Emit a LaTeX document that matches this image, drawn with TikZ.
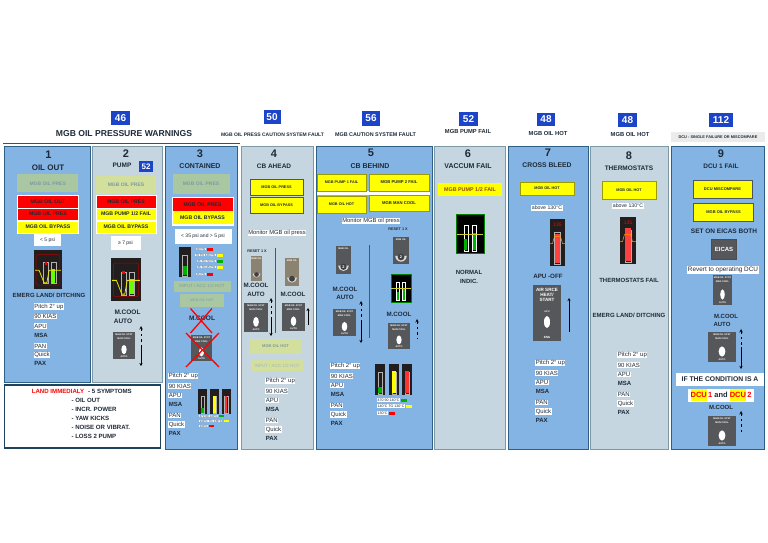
\documentclass[tikz,border=0pt]{standalone}
\usepackage{fontspec}
\setmainfont{Liberation Sans}
\usetikzlibrary{arrows.meta}
\definecolor{pnlblue}{HTML}{84B4E4}
\definecolor{pnlgrey}{HTML}{C5D6E0}
\definecolor{bordblue}{HTML}{2E5F85}
\definecolor{bordgrey}{HTML}{7F98A6}
\definecolor{tagblue}{HTML}{1C44C8}
\definecolor{inkdark}{HTML}{1E2A38}
\definecolor{offgreen}{HTML}{A9C8A2}
\definecolor{offlime}{HTML}{D3DF9C}
\definecolor{offtext}{HTML}{7F9AA0}
\definecolor{alarmred}{HTML}{FF0000}
\definecolor{alarmyel}{HTML}{FFFF00}
\definecolor{knobgrey}{HTML}{55575A}
\definecolor{knobtan}{HTML}{8C8270}
\definecolor{gaugebk}{HTML}{221E1E}
\newcommand{\fs}[1]{\fontsize{#1}{#1}\selectfont}
\tikzset{
  sz/.style 2 args={minimum width=#1,minimum height=#2,inner sep=0pt,outer sep=0pt},
  pblue/.style={draw=bordblue,fill=pnlblue,line width=1pt},
  pgrey/.style={draw=bordgrey,fill=pnlgrey,line width=1pt},
  tag/.style={fill=tagblue,text=white,font=\bfseries\fs{10}},
  head/.style={text=inkdark,font=\bfseries\fs{#1}},
  head/.default=8,
  msg/.style={text=inkdark,font=\bfseries\fs{#1}},
  redb/.style={fill=alarmred,draw=white,text=inkdark,font=\bfseries\fs{5.2}},
  yelb/.style={fill=alarmyel,draw=white,text=inkdark,font=\bfseries\fs{5.2}},
  yeld/.style={fill=alarmyel,draw=inkdark!80,line width=0.7pt,text=inkdark,font=\bfseries\fs{3.8}},
  offb/.style={fill=offgreen,text=offtext,font=\bfseries\fs{5}},
  limeb/.style={fill=offlime,text=offtext,font=\bfseries\fs{5}},
  note/.style={fill=white,inner sep=0.6pt,text=inkdark,font=\fs{6}},
  noteb/.style={inner sep=0.6pt,text=inkdark,font=\bfseries\fs{6}},
  tiny/.style={fill=white,inner sep=0.3pt,text=inkdark,font=\fs{3}},
  knobtxt/.style={text=white,font=\bfseries\fs{2.4},inner sep=0pt},
  arr/.style={-{Stealth[length=3pt,width=3pt]},line width=0.6pt,black},
  dashln/.style={line width=0.6pt,black,dash pattern=on 2.5pt off 3pt},
  redx/.style={draw=alarmred,line width=1.3pt},
  listln/.style={text=inkdark,font=\bfseries\fs{6.1}}
}
% drill list used in most of the columns
\newcommand{\drills}[3]{
  \node[note,anchor=west] (#1a) at (#2,#3) {Pitch 2° up};
  \node[note,anchor=west] (#1b) at (#2,#3+10) {90 KIAS};
  \node[note,anchor=west] (#1c) at (#2,#3+19.5) {APU};
  \node[noteb,anchor=west] (#1d) at (#2,#3+28.5) {MSA};
  \node[note,anchor=west] (#1e) at (#2,#3+39.5) {PAN};
  \node[note,anchor=west] (#1f) at (#2,#3+48.5) {Quick};
  \node[noteb,anchor=west] (#1g) at (#2,#3+57) {PAX};
}
% grey switch: name, centre x, centre y, width, height
\newcommand{\mcool}[5]{
  \node[fill=knobgrey,sz={#4}{#5}] (#1) at (#2,#3) {};
  \node[knobtxt,anchor=north] (#1t) at (#1.north) [yshift=-2pt] {MGB OIL SYST};
  \node[knobtxt,anchor=north] (#1m) at (#1t.south) [yshift=-1.5pt] {MAN COOL};
  \node[knobtxt,anchor=south] (#1u) at (#1.south) [yshift=1.5pt] {AUTO};
  \fill[white] (#2,#3+0.15*#5) ellipse ({0.12*#4} and {0.17*#5});
}
% round selector: name, x, y, w, h, colour, digit
\newcommand{\selector}[7]{
  \node[fill=#6,sz={#4}{#5}] (#1) at (#2,#3) {};
  \node[knobtxt,anchor=north] (#1t) at (#1.north) [yshift=-2pt] {MGB OIL};
  \fill[white!85!black] (#2-0.36*#4,#3+0.2*#5) arc[start angle=180,end angle=360,x radius=0.36*#4,y radius=-0.36*#4];
  \node[fill=black!75,circle,text=white,inner sep=0.5pt,minimum size=0.42*#4,font=\bfseries\fs{4}] (#1d) at (#2,#3+0.24*#5) {#7};
}
% single bar gauge: name, x, y, w, h, colour, level
\newcommand{\bargauge}[7]{
  \node[fill=gaugebk,sz={#4}{#5}] (#1) at (#2,#3) {};
  \draw[white!70!black,line width=0.4pt] (#2-0.2*#4,#3-0.22*#5) rectangle (#2+0.2*#4,#3+0.46*#5);
  \fill[#6] (#2-0.16*#4,#3+0.44*#5) rectangle (#2+0.16*#4,#3+0.44*#5-#7*#5);
}
% temp gauge shoulders and read out: name, value
\newcommand{\shoulder}[2]{
  \draw[orange!80!yellow,line width=0.5pt] ([yshift=-1pt]#1.west) -- ++(2.5,0) -- ++(2,-7) -- ++(6,0) -- ++(2,7) -- ([yshift=-1pt]#1.east);
  \node[text=alarmred,font=\fs{5},inner sep=0pt,anchor=north] (#1v) at (#1.north) [yshift=-4pt] {#2};
}
% double gauge with the pump trace: name, x, y, w, h
\newcommand{\pressgauge}[5]{
  \node[fill=gaugebk,sz={#4}{#5}] (#1) at (#2,#3) {};
  \draw[red!70!black,line width=0.5pt,rounded corners=2pt] (#2-0.42*#4,#3-0.38*#5) rectangle (#2+0.42*#4,#3+0.4*#5);
  \draw[white!70!black,line width=0.5pt] (#2-0.16*#4,#3-0.18*#5) rectangle ++(0.16*#4,0.54*#5);
  \draw[white!70!black,line width=0.5pt] (#2+0.12*#4,#3-0.18*#5) rectangle ++(0.16*#4,0.54*#5);
  \fill[alarmred] (#2-0.12*#4,#3-0.2*#5) rectangle ++(0.08*#4,0.08*#5);
  \fill[green!60!yellow] (#2+0.14*#4,#3-0.02*#5) rectangle ++(0.12*#4,0.36*#5);
  \draw[alarmyel!90!black,line width=0.8pt] (#2-0.46*#4,#3+0.02*#5) -- (#2-0.32*#4,#3+0.02*#5) -- (#2-0.14*#4,#3+0.34*#5) -- (#2-0.04*#4,#3+0.34*#5) -- (#2+0.04*#4,#3+0.02*#5) -- (#2+0.46*#4,#3+0.02*#5);
}
% green framed gauge: name, x, y, w
\newcommand{\dualgauge}[4]{
  \node[fill=black,draw=green!50!black,sz={#4}{1.4*#4}] (#1) at (#2,#3) {};
  \draw[white,line width=0.4pt] (#2-0.22*#4,#3-0.3*#4) rectangle ++(0.14*#4,0.9*#4);
  \draw[white,line width=0.4pt] (#2+0.08*#4,#3-0.3*#4) rectangle ++(0.14*#4,0.9*#4);
  \fill[green!70!black] (#2-0.2*#4,#3+0.58*#4) rectangle ++(0.1*#4,-0.4*#4);
  \fill[green!70!black] (#2+0.1*#4,#3+0.58*#4) rectangle ++(0.1*#4,-0.6*#4);
  \draw[yellow!80!black,line width=0.7pt] (#2-0.48*#4,#3) -- (#2+0.48*#4,#3);
}
\begin{document}
\begin{tikzpicture}[x=1pt,y=-1pt,>=stealth]
  \useasboundingbox (0,0) rectangle (768,543);

  % section headings
  \node[tag,sz={19}{14}] (t46) at (120.5,118) {46};
  \node[head=8.6] (h46) at (124,134) {MGB OIL PRESSURE WARNINGS};
  \node[tag,sz={17}{14}] (t50) at (272,117) {50};
  \node[msg=5] (h50) at (272.5,134.5) {MGB OIL PRESS CAUTION SYSTEM FAULT};
  \node[tag,sz={18}{15}] (t56) at (371,118.5) {56};
  \node[msg=5.4] (h56) at (375.5,135) {MGB CAUTION SYSTEM FAULT};
  \node[tag,sz={19}{14}] (t52) at (468.5,119) {52};
  \node[msg=5.8] (h52) at (468,132) {MGB PUMP FAIL};
  \node[tag,sz={18}{13}] (t48a) at (546,119.5) {48};
  \node[msg=5.8] (h48a) at (548,134) {MGB OIL HOT};
  \node[tag,sz={19}{14}] (t48b) at (627.5,120) {48};
  \node[msg=5.8] (h48b) at (630,135) {MGB OIL HOT};
  \node[tag,sz={24}{14}] (t112) at (721,120) {112};
  \node[fill=black!8,text=inkdark,font=\bfseries\fs{3.9},sz={94}{10}] (h112) at (718,137) {DCU - SINGLE FAILURE OR MISCOMPARE};
  \coordinate (ruleL) at (3,143.5);
  \coordinate (ruleR) at (240,143.5);
  \draw[black!70,line width=1.3pt] (ruleL) -- (ruleR);

  % columns
  \node[pblue,sz={86}{236}] (p1) at (47.7,264) {};
  \node[pgrey,sz={70.5}{236}] (p2) at (127.3,264) {};
  \node[pblue,sz={72}{303}] (p3) at (201,297.5) {};
  \node[pgrey,sz={72}{303}] (p4) at (277,297.5) {};
  \node[pblue,sz={116}{303}] (p5) at (374.5,297.5) {};
  \node[pgrey,sz={71}{303}] (p6) at (470,297.5) {};
  \node[pblue,sz={80}{303}] (p7) at (548,297.5) {};
  \node[pgrey,sz={78}{303}] (p8) at (629.5,297.5) {};
  \node[pblue,sz={93}{303}] (p9) at (718,297.5) {};
  \node[draw=bordblue!70!black,fill=white,line width=1.2pt,sz={156}{63}] (land) at (82.7,416.5) {};

  % column 1
  \node[head=11] (n1) at (48.5,155) {1};
  \node[head] (c1) at (48,167.5) {OIL OUT};
  \node[offb,sz={61}{18}] (b1a) at (47.7,183.3) {MGB OIL PRES};
  \node[redb,sz={61}{12.5}] (b1b) at (48,201.5) {MGB OIL OUT};
  \node[redb,sz={61}{12.5}] (b1c) at (48,214) {MGB OIL PRES};
  \node[yelb,sz={61}{12.5}] (b1d) at (48,227) {MGB OIL BYPASS};
  \node[note,sz={27}{12},font=\fs{5}] (s1) at (47.5,240) {< 5 psi};
  \pressgauge{g1}{48}{269.5}{28}{39}
  \node[head=6] (e1) at (49,295) {EMERG LAND/ DITCHING};
  \drills{d1}{33.5}{306.5}

  % column 2
  \node[head=11] (n2) at (126,154) {2};
  \node[head=6.5] (c2) at (122,165.5) {PUMP};
  \node[tag,font=\bfseries\fs{8},sz={13.5}{11}] (t2) at (146,166.5) {52};
  \node[limeb,sz={60}{18}] (b2a) at (126,185) {MGB OIL PRES};
  \node[redb,sz={60}{12.5}] (b2b) at (126,201.5) {MGB OIL PRES};
  \node[yelb,sz={60}{12.5}] (b2c) at (126,214) {MGB PUMP 1/2 FAIL};
  \node[yelb,sz={60}{12.5}] (b2d) at (126,227) {MGB OIL BYPASS};
  \node[note,sz={30}{14},font=\fs{5}] (s2) at (125.5,243) {≥ 7 psi};
  \pressgauge{g2}{126}{279.5}{30}{43}
  \node[head=6.5] (m2a) at (127.5,312.5) {M.COOL};
  \node[head=6.5] (m2b) at (123,321) {AUTO};
  \mcool{k2}{124}{345.5}{22}{27}
  \coordinate (a2t) at (141,326); \coordinate (a2m) at (141,345); \coordinate (a2b) at (141,366);
  \draw[dashln,<-] (a2t) -- (a2m); \draw[arr] (a2m) -- (a2b);

  % column 3
  \node[head=11] (n3) at (200,154) {3};
  \node[head=7] (c3) at (200,166) {CONTAINED};
  \node[offb,sz={57}{20}] (b3a) at (201,184) {MGB OIL PRES};
  \node[fill=white,sz={62}{29}] (w3) at (202.5,211) {};
  \node[redb,draw=none,sz={60}{12.5}] (b3b) at (202.5,204.5) {MGB OIL PRES};
  \node[yelb,draw=none,sz={60}{13}] (b3c) at (202.5,217.5) {MGB OIL BYPASS};
  \node[note,sz={57}{15},font=\fs{5}] (s3) at (203,236.5) {< 35 psi and > 5 psi};
  \bargauge{g3}{185}{262}{12}{30}{green!70!black}{0.3}
  \foreach \lab/\yy/\cc/\xx in {130 PSI/249/alarmred/206,70 TO 130 PSI/255/alarmyel/216,45 TO 70 PSI/261/green!70!black/216,35 TO 45 PSI/267/alarmyel/216,35 PSI/274/alarmred/206}{
    \node[tiny,anchor=east] (k\yy) at (\xx,\yy) {\lab};
    \node[fill=\cc,sz={6}{3},anchor=west] (m\yy) at (k\yy.east) [xshift=1pt] {};
  }
  \node[offb,sz={57}{11},font=\fs{4.5}] (b3d) at (202,286) {INPUT / ACC 1/2 HOT};
  \node[offb,sz={44}{13},font=\fs{3.6}] (b3e) at (202,300.5) {MGB OIL HOT};
  \node[head=6.5] (m3) at (202,318.5) {M.COOL};
  \coordinate (x1a) at (190.5,308.5); \coordinate (x1b) at (212,333);
  \coordinate (x1c) at (212,308.5); \coordinate (x1d) at (190.5,333);
  \draw[redx] (x1a) -- (x1b); \draw[redx] (x1c) -- (x1d);
  \mcool{k3}{201.5}{348}{21}{26}
  \coordinate (x2a) at (186,333); \coordinate (x2b) at (219,367);
  \coordinate (x2c) at (219,333); \coordinate (x2d) at (186,367);
  \draw[redx] (x2a) -- (x2b); \draw[redx] (x2c) -- (x2d);
  \drills{d3}{168}{376}
  \bargauge{g3a}{202.5}{401.5}{9}{25}{green!70!black}{0.2}
  \bargauge{g3b}{214.5}{401.5}{9}{25}{alarmyel}{0.65}
  \bargauge{g3c}{226}{401.5}{9}{25}{alarmred!80!white}{0.65}
  \foreach \lab/\yy/\cc in {470 90 140°C/416/green!70!black,140°C TO 130°C/421/alarmyel,130°C/426/alarmred}{
    \node[tiny,anchor=west] (r\yy) at (199,\yy) {\lab};
    \node[fill=\cc,sz={5}{2.5},anchor=west] (q\yy) at (r\yy.east) [xshift=1pt] {};
  }

  % land box
  \node[listln,text=alarmred] (l0) at (58,391.5) {LAND IMMEDIALY};
  \node[listln] (l1) at (110,391.5) {- 5 SYMPTOMS};
  \foreach \lab/\yy in {OIL OUT/400,INCR. POWER/409,YAW KICKS/418,NOISE OR VIBRAT./427,LOSS 2 PUMP/436}{
    \node[listln,anchor=west] (l\yy) at (68,\yy) {- \lab};
  }

  % column 4
  \node[head=11] (n4) at (274,154) {4};
  \node[head=6.5] (c4) at (274,166) {CB AHEAD};
  \node[yeld,sz={53}{16}] (b4a) at (276.5,187) {MGB OIL PRESS};
  \node[yeld,sz={53}{16}] (b4b) at (276.5,205) {MGB OIL BYPASS};
  \node[note,font=\fs{5.8}] (s4) at (277,233) {Monitor MGB oil press};
  \node[head=3.8] (r4) at (257,251) {RESET 1 X};
  \coordinate (v4a) at (275.5,248); \coordinate (v4b) at (275.5,333);
  \draw[bordblue,line width=0.7pt] (v4a) -- (v4b);
  \selector{q4a}{256.5}{268.5}{11}{25}{knobtan}{}
  \selector{q4b}{292}{272}{14}{28}{knobtan}{}
  \node[head=6.2] (m4a) at (256,285.5) {M.COOL};
  \node[head=6.2] (m4b) at (256,294.5) {AUTO};
  \node[head=6.2] (m4c) at (293,294) {M.COOL};
  \mcool{k4a}{256}{317.5}{24}{29}
  \mcool{k4b}{293.5}{317}{23}{28}
  \coordinate (a4t) at (271,298); \coordinate (a4m) at (271,317); \coordinate (a4b) at (271,336);
  \draw[dashln,<-] (a4t) -- (a4m); \draw[arr] (a4m) -- (a4b);
  \coordinate (a5t) at (308,308); \coordinate (a5b) at (308,325);
  \draw[arr] (a5b) -- (a5t);
  \node[limeb,sz={51}{15},font=\bfseries\fs{4}] (b4c) at (275.5,346.5) {MGB OIL HOT};
  \node[limeb,sz={52}{11},text=offtext!70,font=\fs{4.5}] (b4d) at (277,365.5) {INPUT / ACC 1/2 HOT};
  \drills{d4}{265}{381}

  % column 5
  \node[head=11] (n5) at (371,153) {5};
  \node[head=7] (c5) at (370,166) {CB BEHIND};
  \node[fill=white,sz={113}{4}] (w5) at (373,193) {};
  \node[yeld,draw=alarmyel!60!black,line width=0.4pt,sz={49}{17}] (b5a) at (341.5,182.5) {MGB PUMP 1 FAIL};
  \node[yeld,draw=alarmyel!60!black,line width=0.4pt,sz={60}{17},font=\bfseries\fs{4.2}] (b5b) at (399,182.5) {MGB PUMP 2 FAIL};
  \node[yeld,draw=alarmyel!60!black,line width=0.4pt,sz={49}{17}] (b5c) at (341.5,204.5) {MGB OIL HOT};
  \node[yeld,draw=alarmyel!60!black,line width=0.4pt,sz={60}{16},font=\bfseries\fs{4.2}] (b5d) at (399,203.5) {MGB MAN COOL};
  \node[note,font=\fs{5.8}] (s5) at (371,221) {Monitor MGB oil press};
  \node[head=3.8] (r5) at (398,229.5) {RESET 1 X};
  \coordinate (v5a) at (369.5,245); \coordinate (v5b) at (369.5,338);
  \draw[bordblue,line width=0.7pt] (v5a) -- (v5b);
  \selector{q5a}{343.5}{260}{15}{28}{knobgrey}{2}
  \selector{q5b}{401}{250.5}{16}{27}{knobgrey}{2}
  \dualgauge{g5}{401}{288}{20}
  \node[head=6.2] (m5a) at (345,289) {M.COOL};
  \node[head=6.2] (m5b) at (345,297.5) {AUTO};
  \node[head=6.2] (m5c) at (399,314) {M.COOL};
  \mcool{k5a}{344.5}{322.5}{23}{27}
  \mcool{k5b}{399}{336}{22}{26}
  \coordinate (a6t) at (361,301); \coordinate (a6m) at (361,322); \coordinate (a6b) at (361,343);
  \draw[dashln,<-] (a6t) -- (a6m); \draw[arr] (a6m) -- (a6b);
  \coordinate (a7t) at (417,319); \coordinate (a7b) at (417,338);
  \draw[dashln,<-] (a7t) -- (a7b);
  \drills{d5}{330}{366}
  \bargauge{g5a}{380}{379.5}{10}{31}{green!70!black}{0.2}
  \bargauge{g5b}{394}{379.5}{10}{31}{alarmyel}{0.7}
  \bargauge{g5c}{407}{379.5}{10}{31}{alarmred!80!white}{0.7}
  \foreach \lab/\yy/\cc in {470 90 140°C/400/green!70!black,140°C TO 130°C/406/alarmyel,130°C/413/alarmred}{
    \node[tiny,anchor=west,font=\fs{3.6}] (u\yy) at (377,\yy) {\lab};
    \node[fill=\cc,sz={6}{3},anchor=west] (v\yy) at (u\yy.east) [xshift=1pt] {};
  }

  % column 6
  \node[head=11] (n6) at (468,154) {6};
  \node[head=7] (c6) at (468,166) {VACCUM FAIL};
  \node[fill=alarmyel,text=orange!60!black,font=\bfseries\fs{5.4},sz={64}{13}] (b6) at (470,189.5) {MGB PUMP 1/2 FAIL};
  \dualgauge{g6}{470}{234}{28}
  \node[head=6] (i6a) at (469,272) {NORMAL};
  \node[head=6] (i6b) at (469,281) {INDIC.};

  % column 7
  \node[head=11] (n7) at (548,153) {7};
  \node[head=6.8] (c7) at (547,165.5) {CROSS BLEED};
  \node[yeld,draw=alarmyel!60!black,line width=0.5pt,sz={54}{13}] (b7) at (547,188.5) {MGB OIL HOT};
  \node[note,font=\fs{5.2}] (s7) at (547,208) {above 130°C};
  \bargauge{g7}{557.5}{242.5}{15}{47}{alarmred!75!white}{0.62}
  \shoulder{g7}{135}
  \node[head=6.2] (o7) at (548,276) {APU -OFF};
  \node[fill=knobgrey,sz={28}{56}] (k7) at (547,313) {};
  \node[text=white,font=\bfseries\fs{4.6},align=center,anchor=north,inner sep=0pt] (k7t) at (k7.north) [yshift=-3pt] {AIR SRCE\\[0.5pt]HEAT/\\[0.5pt]START};
  \node[knobtxt] (k7a) at (547,311.5) {APU};
  \fill[white] (547,322) ellipse (3 and 6);
  \node[knobtxt,font=\bfseries\fs{3}] (k7b) at (547,337) {ENG};
  \coordinate (a8t) at (569,298); \coordinate (a8b) at (569,332);
  \draw[arr] (a8b) -- (a8t);
  \drills{d7}{535}{363}

  % column 8
  \node[head=11] (n8) at (629,156) {8};
  \node[head=6.5] (c8) at (629,168) {THERMOSTATS};
  \node[yeld,draw=alarmyel!60!black,line width=0.5pt,sz={54}{18}] (b8) at (629,190) {MGB OIL HOT};
  \node[note,font=\fs{5.2}] (s8) at (628,206) {above 130°C};
  \bargauge{g8}{628}{240.5}{16}{47}{alarmred!75!white}{0.7}
  \shoulder{g8}{135}
  \node[head=6] (f8) at (629,280) {THERMOSTATS FAIL};
  \node[head=6] (e8) at (629,315.5) {EMERG LAND/ DITCHING};
  \drills{d8}{617}{355}

  % column 9
  \node[head=11] (n9) at (721,154) {9};
  \node[head=6.5] (c9) at (721,166) {DCU 1 FAIL};
  \node[yeld,sz={59}{18},font=\bfseries\fs{4}] (b9a) at (722.5,189) {DCU MISCOMPARE};
  \node[yeld,sz={60}{18},font=\bfseries\fs{4}] (b9b) at (723.5,212) {MGB OIL BYPASS};
  \node[head=6.5] (e9) at (724,231) {SET ON EICAS BOTH};
  \node[fill=knobgrey,draw=black!70,line width=1pt,sz={25}{20},text=white,font=\bfseries\fs{6}] (eic) at (724,249) {EICAS};
  \node[note,font=\fs{6.4}] (v9) at (723,270) {Revert to operating DCU};
  \mcool{k9a}{722.5}{290}{19}{30}
  \node[head=6] (m9a) at (726,316) {M.COOL};
  \node[head=6] (m9b) at (722,324.5) {AUTO};
  \mcool{k9b}{722}{347}{28}{30}
  \coordinate (a9t) at (741,329); \coordinate (a9m) at (741,347); \coordinate (a9b) at (741,369);
  \draw[dashln,<-] (a9t) -- (a9m); \draw[arr] (a9m) -- (a9b);
  \node[fill=white,sz={88}{13},text=inkdark,font=\bfseries\fs{6.8}] (if9) at (720,379) {IF THE CONDITION IS A};
  \node[fill=white,sz={66}{13},font=\bfseries\fs{7.5}] (dcu) at (721,395) {\colorbox{alarmyel}{\hspace{-3pt}\textcolor{alarmred}{DCU}\hspace{-3pt}}\,\textcolor{alarmred}{1} \textcolor{inkdark}{and} \colorbox{alarmyel}{\hspace{-3pt}\textcolor{alarmred}{DCU}\hspace{-3pt}}\,\textcolor{alarmred}{2}};
  \node[head=6] (m9c) at (721,407) {M.COOL};
  \mcool{k9c}{722}{431}{28}{30}
  \coordinate (a0t) at (741,411); \coordinate (a0b) at (741,434);
  \draw[dashln,<-] (a0t) -- (a0b);
\end{tikzpicture}
\end{document}
